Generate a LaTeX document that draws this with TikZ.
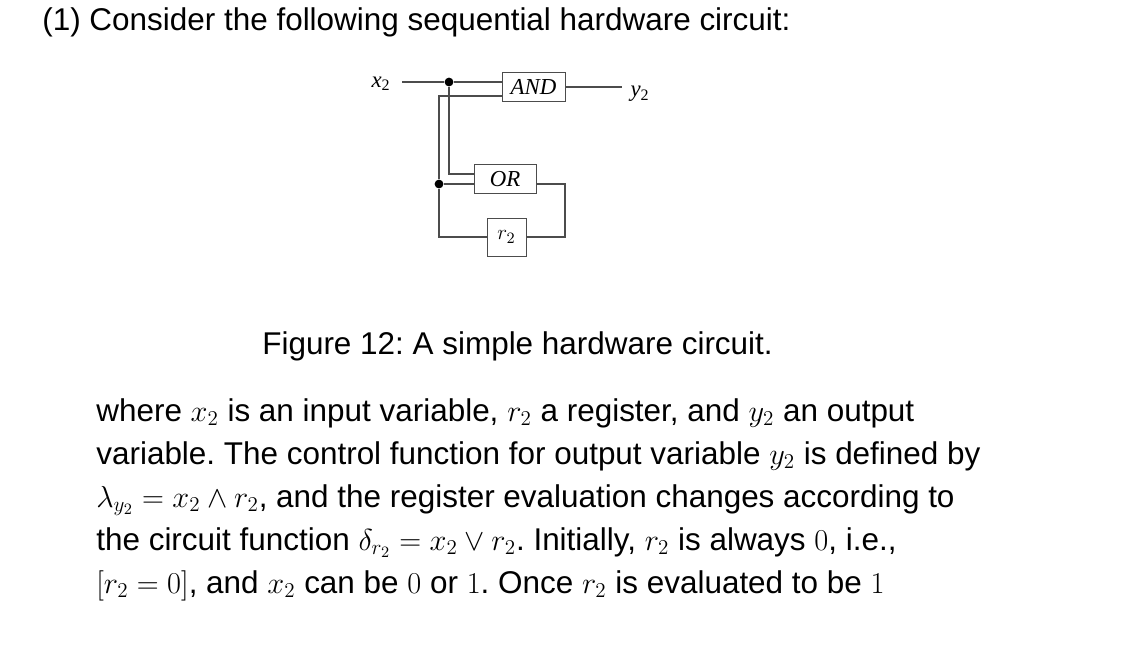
\documentclass[tikz,border=0pt]{standalone}
\usepackage{amsmath}
\usepackage{fontspec}
\setmainfont{Liberation Sans}
\newfontfamily\circfont{Liberation Serif}
\usetikzlibrary{positioning}
\frenchspacing
\tikzset{
  gate/.style={draw=black!70, inner sep=0pt, minimum height=29*0.02cm, font=\circfont\itshape\fontsize{13}{13}\selectfont},
  wire/.style={draw=black!70, line width=0.6pt},
  junction/.style={circle, fill=black, inner sep=0pt, minimum size=5pt},
  txt/.style={anchor=base west, inner sep=0pt, font=\fontsize{17.9}{21}\selectfont},
  sig/.style={inner sep=0pt, font=\circfont\itshape\fontsize{13}{13}\selectfont}
}
\begin{document}
\begin{tikzpicture}[x=0.02cm, y=-0.02cm]
\useasboundingbox (0,0) rectangle (1148,670);
\node[txt] (head) at (42,30) {(1) Consider the following sequential hardware circuit:};

\node[gate, minimum width=63*0.02cm] (and) at (533.5,86.5) {AND};
\node[gate, minimum width=62*0.02cm] (or) at (505,179) {OR};
\node[gate, minimum width=39*0.02cm, minimum height=38*0.02cm] (reg) at (506.5,237) {$r_2$};
\node[sig] (x) at (381,84) {\textit{x}\textsubscript{\upshape 2}};
\node[sig] (y) at (640,94) {\textit{y}\textsubscript{\upshape 2}};
\node[junction] (j1) at (449,82) {};
\node[junction] (j2) at (439,184) {};
\coordinate (xin) at (402,82);
\coordinate (yout) at (622,87);

\draw[wire] (xin) -- (j1) -- (and.west |- j1);
\draw[wire] (and.east |- yout) -- (yout);
\draw[wire] (and.west |- 0,96) -- (439,96) -- (j2);
\draw[wire] (j1) |- (or.west |- 0,174);
\draw[wire] (j2) -- (or.west |- j2);
\draw[wire] (or.east |- j2) -- (565,184) |- (reg.east);
\draw[wire] (reg.west) -| (j2);

\node[txt] (cap) at (262,354) {Figure 12: A simple hardware circuit.};
\node[txt] (l1) at (96,421) {where $x_2$ is an input variable, $r_2$ a register, and $y_2$ an output};
\node[txt] (l2) at (96,464) {variable. The control function for output variable $y_2$ is defined by};
\node[txt] (l3) at (96,507) {$\lambda_{y_2}=x_2\wedge r_2$, and the register evaluation changes according to};
\node[txt] (l4) at (96,550) {the circuit function $\delta_{r_2}=x_2\vee r_2$. Initially, $r_2$ is always $0$, i.e.,};
\node[txt] (l5) at (96,593) {$[r_2=0]$, and $x_2$ can be $0$ or $1$. Once $r_2$ is evaluated to be $1$};
\end{tikzpicture}
\end{document}
